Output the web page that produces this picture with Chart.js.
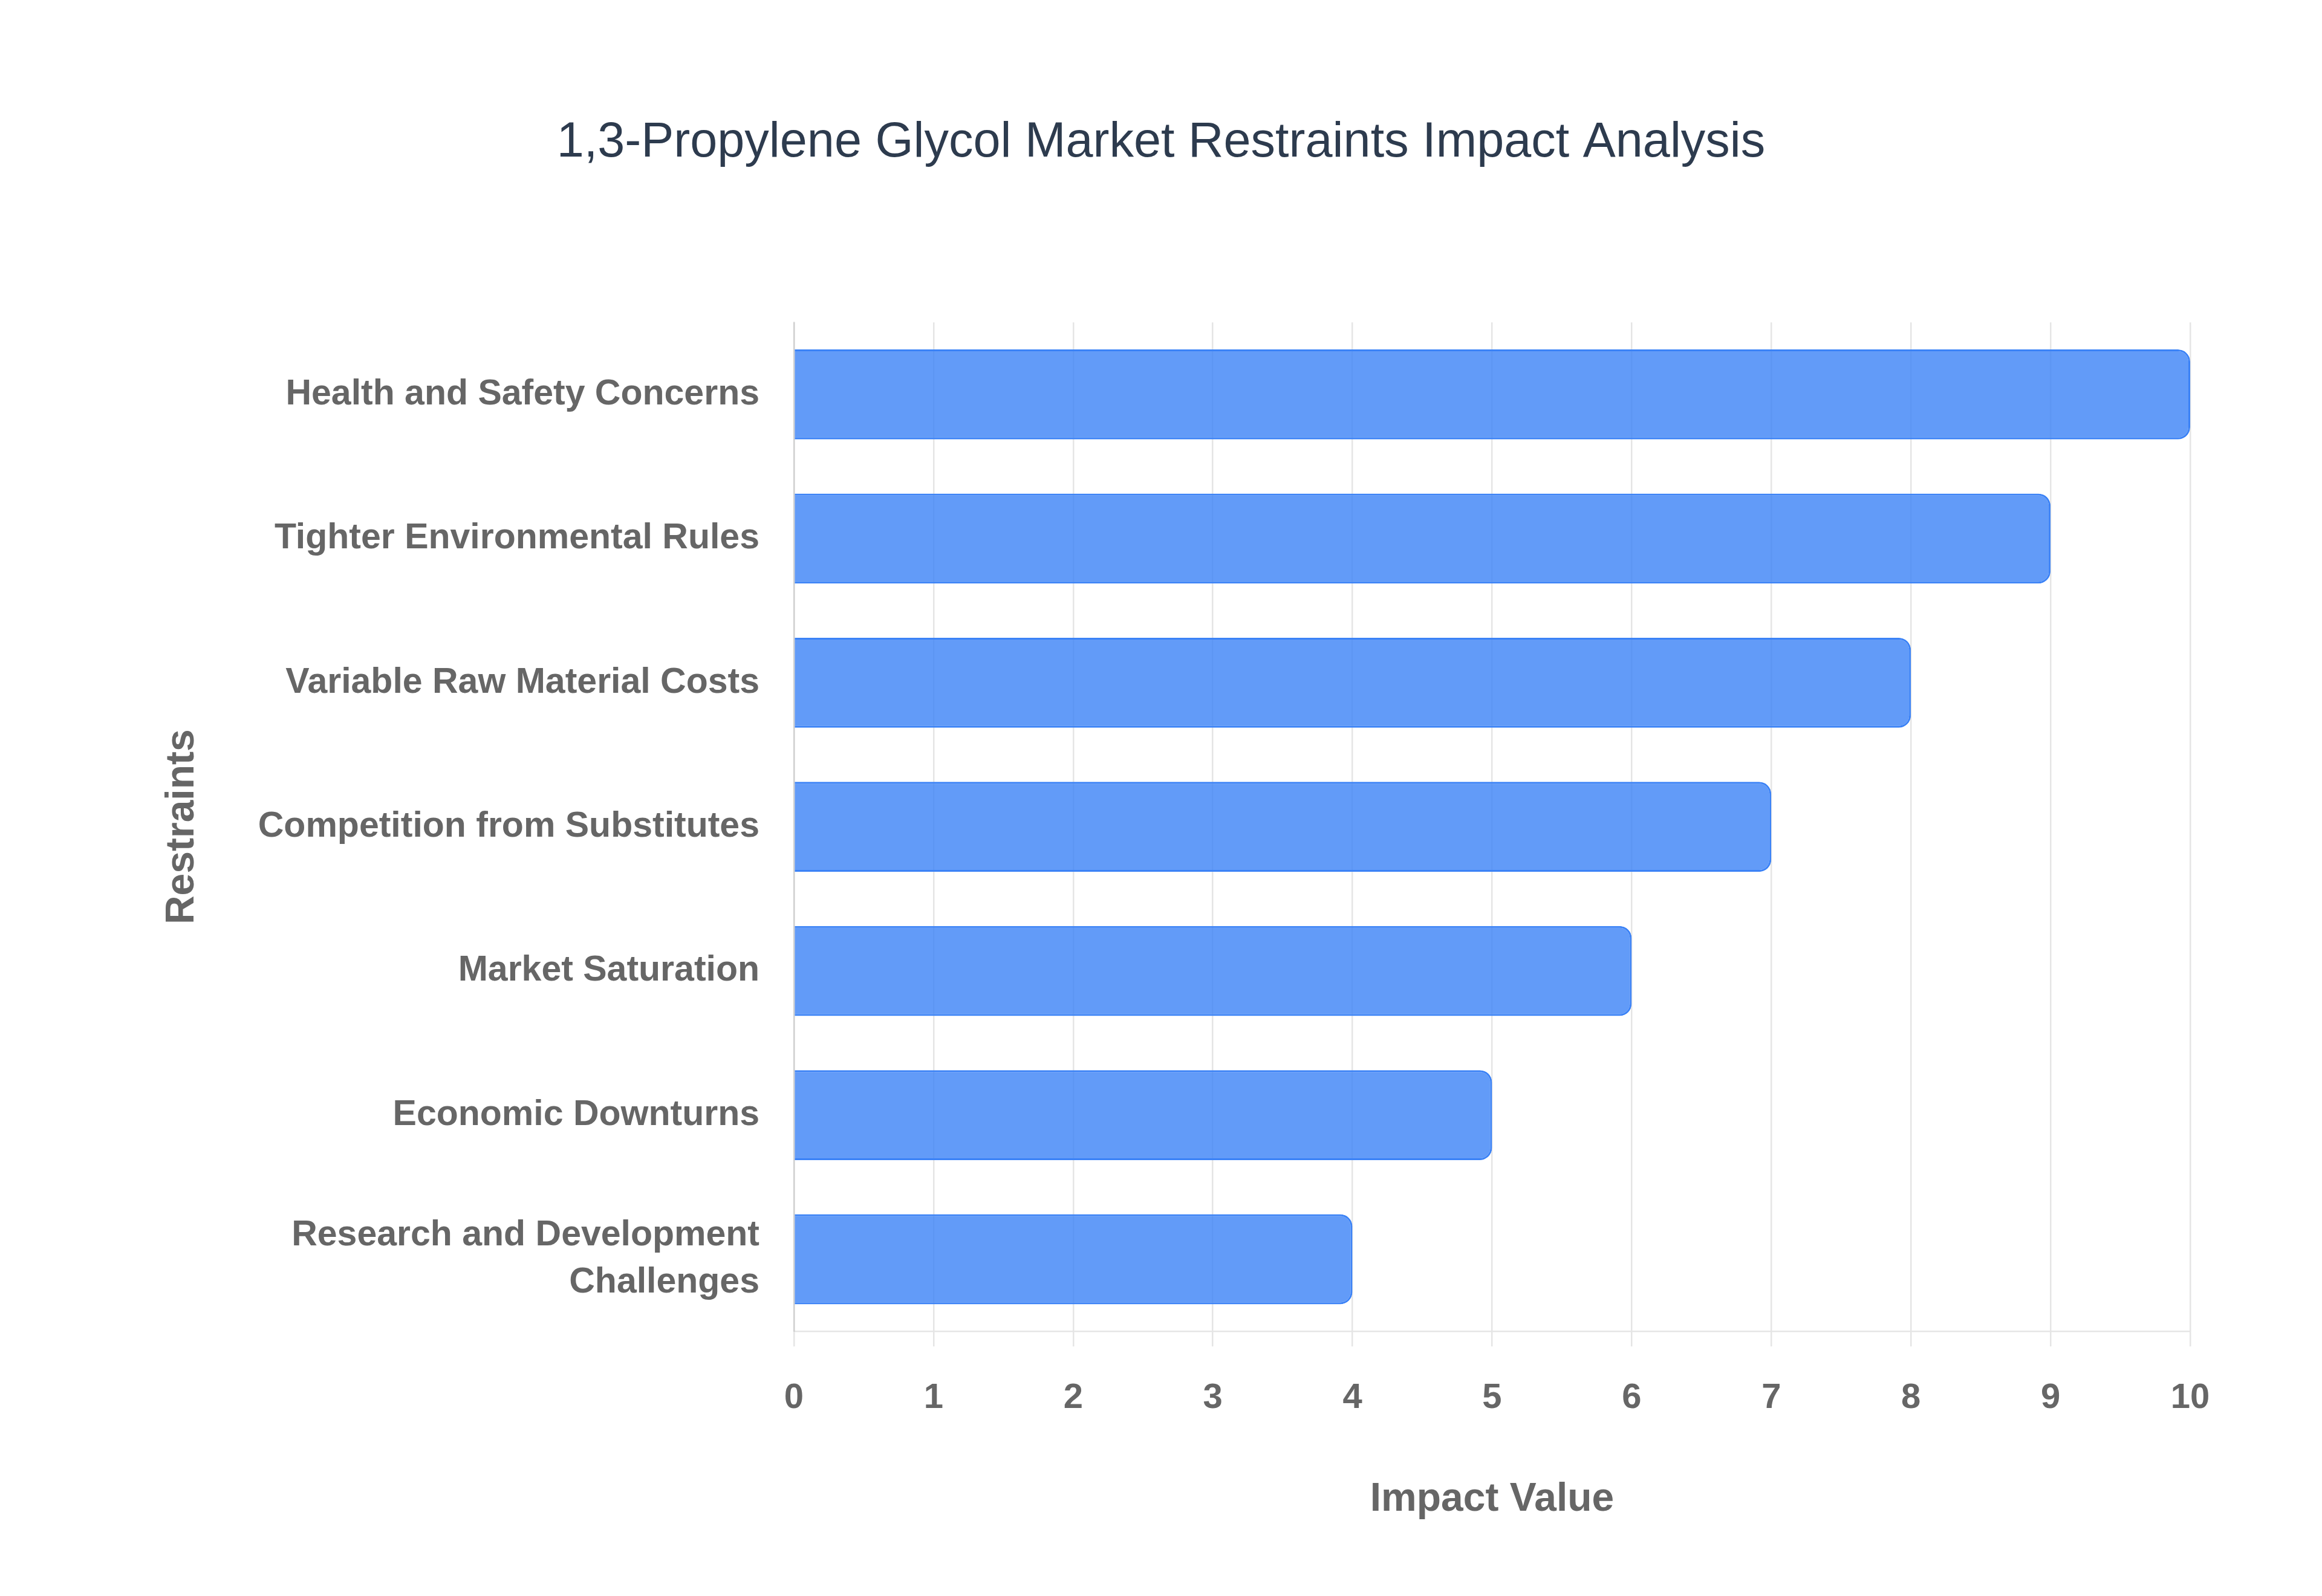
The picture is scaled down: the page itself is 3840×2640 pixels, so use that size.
<!DOCTYPE html>
<html>
<head>
<meta charset="utf-8">
<title>1,3-Propylene Glycol Market Restraints Impact Analysis</title>
<script src="https://cdn.jsdelivr.net/npm/chart.js@4.4.1/dist/chart.umd.min.js"></script>
<style>
    html, body { margin: 0; padding: 0; background: #ffffff; }
    #wrap { width: 3840px; height: 2640px; }
</style>
</head>
<body>
<div id="wrap"><canvas id="restraintsChart" width="3840" height="2640"></canvas></div>
<script>
// Restraints (top to bottom) and their impact values
const restraints = [
    "Health and Safety Concerns",
    "Tighter Environmental Rules",
    "Variable Raw Material Costs",
    "Competition from Substitutes",
    "Market Saturation",
    "Economic Downturns",
    ["Research and Development", "Challenges"]
];
const impactValues = [10, 9, 8, 7, 6, 5, 4];
const xTicks = [0, 1, 2, 3, 4, 5, 6, 7, 8, 9, 10];

document.addEventListener("DOMContentLoaded", function () {
    const ctx = document.getElementById("restraintsChart").getContext("2d");

    new Chart(ctx, {
        type: "bar",
        data: {
            labels: restraints,
            datasets: [{
                label: "Impact Value",
                data: impactValues,
                backgroundColor: "rgba(59, 130, 246, 0.8)",
                borderColor: "rgba(59, 130, 246, 1)",
                borderWidth: 3,
                borderRadius: 20,
                barPercentage: 0.78,
                categoryPercentage: 0.8
            }]
        },
        options: {
            indexAxis: "y",
            responsive: false,
            animation: false,
            devicePixelRatio: 1,
            layout: {
                padding: { left: 218, right: 218, top: 0, bottom: 0 }
            },
            plugins: {
                legend: { display: false },
                tooltip: { enabled: false },
                title: {
                    display: true,
                    text: "1,3-Propylene Glycol Market Restraints Impact Analysis",
                    color: "#2d3b4e",
                    font: { family: "'Liberation Sans', Arial, sans-serif", size: 81, weight: "normal" },
                    padding: { top: 188, bottom: 248 }
                }
            },
            scales: {
                x: {
                    min: 0,
                    max: 10,
                    afterBuildTicks: scale => { scale.ticks = xTicks.map(v => ({ value: v })); },
                    grid: { color: "rgba(0, 0, 0, 0.1)", lineWidth: 2.5, tickLength: 25 },
                    border: { color: "rgba(0, 0, 0, 0.1)", width: 2.5 },
                    ticks: {
                        color: "#666666",
                        padding: 51,
                        font: { family: "'Liberation Sans', Arial, sans-serif", size: 58, weight: "bold" }
                    },
                    title: {
                        display: true,
                        text: "Impact Value",
                        color: "#666666",
                        font: { family: "'Liberation Sans', Arial, sans-serif", size: 66, weight: "bold" },
                        padding: { top: 42, bottom: 120 }
                    }
                },
                y: {
                    afterFit: scale => { scale.width = 1313 - 218; },
                    grid: { display: false, drawTicks: false },
                    border: { color: "rgba(0, 0, 0, 0.1)", width: 2.5 },
                    ticks: {
                        color: "#666666",
                        padding: 57,
                        font: { family: "'Liberation Sans', Arial, sans-serif", size: 59, weight: "bold", lineHeight: 1.33 }
                    },
                    title: {
                        display: true,
                        text: "Restraints",
                        color: "#666666",
                        font: { family: "'Liberation Sans', Arial, sans-serif", size: 66, weight: "bold" },
                        padding: { top: 44, bottom: 0 }
                    }
                }
            }
        }
    });
});
</script>
</body>
</html>
